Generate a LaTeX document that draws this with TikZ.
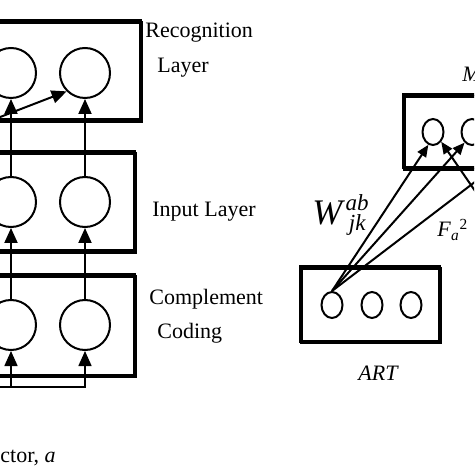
\documentclass[tikz,border=0pt]{standalone}
\usepackage{fontspec}
\setmainfont{Liberation Serif}
\usetikzlibrary{shapes,arrows.meta,positioning}

\tikzset{
  neuron/.style={circle,draw,line width=1pt,minimum size=25pt,inner sep=0pt},
  unit/.style={ellipse,draw,line width=1pt,minimum width=10.5pt,minimum height=13pt,inner sep=0pt},
  layerbox/.style={draw,line width=1.5pt},
  lbl/.style={anchor=base west,inner sep=0pt,font=\fontsize{11}{13}\selectfont},
  feed/.style={-{Triangle[length=7.5pt,width=6.5pt]},line width=1pt},
  feedthin/.style={-{Triangle[length=7.5pt,width=6.5pt]},line width=0.8pt},
  link/.style={-{Triangle[length=6pt,width=5pt]},line width=1pt}
}

\begin{document}
\begin{tikzpicture}[x=0.5pt,y=-0.5pt]
\useasboundingbox (0,0) rectangle (474,474);
\clip (0,0) rectangle (474,474);

% Layer boxes, drawn twice for the shadow
\foreach \s in {0,1.2} {
  \draw[layerbox] (-10+\s,21+\s) rectangle (140+\s,120+\s);
  \draw[layerbox] (-10+\s,152+\s) rectangle (134+\s,251+\s);
  \draw[layerbox] (-10+\s,275+\s) rectangle (134+\s,375+\s);
  \draw[layerbox] (403+\s,95+\s) rectangle (490+\s,168+\s);
  \draw[layerbox] (300+\s,267+\s) rectangle (439+\s,341+\s);
}

% Neurons of the left network
\node[neuron] (r1a) at (11,73) {};
\node[neuron] (r1b) at (85,73) {};
\node[neuron] (in1a) at (11,202) {};
\node[neuron] (in1b) at (85,202) {};
\node[neuron] (cc1a) at (11,325) {};
\node[neuron] (cc1b) at (85,325) {};

% Units of the right network
\node[unit] (art1) at (332,305) {};
\node[unit] (art2) at (372,305) {};
\node[unit] (art3) at (411,305) {};
\node[unit] (m1) at (433,132) {};
\node[unit] (m2) at (472,132) {};

% Free ends
\coordinate (feedin) at (-5,387);
\coordinate (recin) at (-5,119);
\coordinate (m3in) at (505,159);
\coordinate (fin) at (495,220);

% Labels
\node[lbl] (reclbl) at (145,38) {Recognition};
\node[lbl] (reclbl2) at (157,73) {Layer};
\node[lbl] (inlbl) at (152,217) {Input Layer};
\node[lbl] (cclbl) at (149,305) {Complement};
\node[lbl] (cclbl2) at (157,338) {Coding};
\node[lbl] (veclbl) at (0,462) {ctor, \textit{a}};
\node[lbl] (artlbl) at (358,380) {\textit{ART}};
\node[lbl] (maplbl) at (462,82) {\textit{M}};
\node[lbl] (flbl) at (437,237) {\textit{F}\textsubscript{\textit{a}}\textsuperscript{2}};
\node[anchor=base west,inner sep=0pt] (wlbl) at (312,225)
  {\fontsize{18}{18}\selectfont\textit{W}\kern0.3pt\rlap{\raisebox{7.3pt}{\fontsize{11.5}{11}\selectfont\textit{ab}}}\raisebox{-2.8pt}{\kern1.6pt\fontsize{11.5}{11}\selectfont\textit{jk}}};

% Arrows
\draw[feedthin] (cc1a.south |- feedin) -- (cc1a.south);
\draw[feedthin] (feedin) -| (cc1b.south);
\draw[feed] (cc1a) -- (in1a);
\draw[feed] (cc1b) -- (in1b);
\draw[feed] (in1a) -- (r1a);
\draw[feed] (in1b) -- (r1b);
\draw[feed] (recin) -- (r1b.225);
\draw[link] (art1.north) -- (m1.250);
\draw[link] (art1.north) -- (m2.235);
\draw[link] (art1.north) -- (m3in);
\draw[link] (fin) -- (m1.310);

\end{tikzpicture}
\end{document}
